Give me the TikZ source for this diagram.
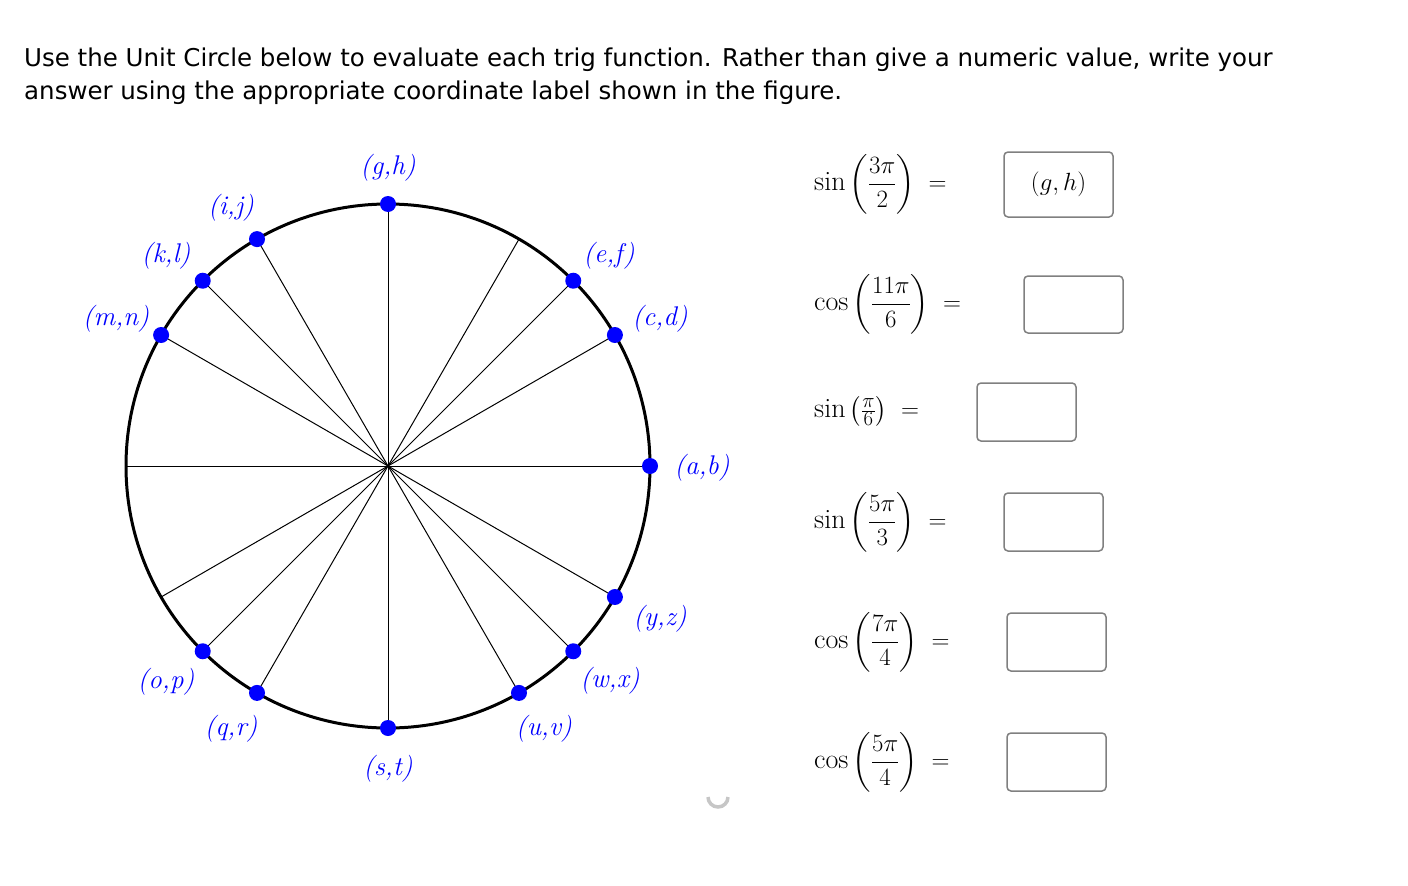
\documentclass[tikz,border=0pt]{standalone}
\usepackage{amsmath}
\usepackage{fontspec}
\usetikzlibrary{calc}
\newfontfamily\topfont{DejaVu Sans}
\begin{document}
\begin{tikzpicture}[x=1pt,y=-1pt,
  lab/.style={text=blue,font=\fontsize{27}{30}\selectfont\itshape},
  dot/.style={circle,fill=blue,inner sep=0pt,minimum size=16pt},
  ansbox/.style={draw=gray,line width=1.5pt,rounded corners=4pt,inner sep=0pt},
  expr/.style={anchor=west,inner sep=0pt,font=\fontsize{28}{30}\selectfont}]
\useasboundingbox (0,0) rectangle (1408,886);
\node[anchor=west,inner sep=0pt,font=\topfont\fontsize{24.5}{33}\selectfont,align=left] (t1) at (24,60) {Use the Unit Circle below to evaluate each trig function. Rather than give a numeric value, write your};
\node[anchor=west,inner sep=0pt,font=\topfont\fontsize{24.5}{33}\selectfont,align=left] (t2) at (24,93) {answer using the appropriate coordinate label shown in the figure.};
\coordinate (O) at (388,466);
\foreach \a in {0,30,45,60,90,120,135,150,180,210,225,240,270,300,315,330}
  \draw[line width=1pt] (O) -- ++(\a:262 and -262);
\draw[line width=3pt] (O) circle (262);
\foreach \a/\n in {0/ab,30/cd,45/ef,90/gh,120/ij,135/kl,150/mn,225/op,240/qr,270/st,300/uv,315/wx,330/yz}
  \node[dot] (p\n) at ($(O)+(\a:262 and -262)$) {};
\node[lab] (lgh) at (388,168) {(g,h)};
\node[lab] (lij) at (231,208) {(i,j)};
\node[lab] (lkl) at (166,256) {(k,l)};
\node[lab] (lmn) at (116,319) {(m,n)};
\node[lab] (lef) at (609,256) {(e,f)};
\node[lab] (lcd) at (660,319) {(c,d)};
\node[lab] (lab) at (702,468) {(a,b)};
\node[lab] (lyz) at (660,619) {(y,z)};
\node[lab] (lwx) at (610,681) {(w,x)};
\node[lab] (luv) at (544,729) {(u,v)};
\node[lab] (lst) at (388,769) {(s,t)};
\node[lab] (lqr) at (231,729) {(q,r)};
\node[lab] (lop) at (166,682) {(o,p)};
\node[expr] (e1) at (814,184) {$\mathrm{sin}\left(\dfrac{3\pi}{2}\right)\;=$};
\node[ansbox,minimum width=109pt,minimum height=65pt,font=\fontsize{28}{30}\selectfont] (b1) at (1058.5,184.5) {$(g,h)$};
\node[expr] (e2) at (814,304) {$\mathrm{cos}\left(\dfrac{11\pi}{6}\right)\;=$};
\node[ansbox,minimum width=99pt,minimum height=57pt] (b2) at (1073.5,304.5) {};
\node[expr] (e3) at (814,411) {$\mathrm{sin}\left(\frac{\pi}{6}\right)\;=$};
\node[ansbox,minimum width=99pt,minimum height=58pt] (b3) at (1026.5,412) {};
\node[expr] (e4) at (814,522) {$\mathrm{sin}\left(\dfrac{5\pi}{3}\right)\;=$};
\node[ansbox,minimum width=99pt,minimum height=58pt] (b4) at (1053.5,522) {};
\node[expr] (e5) at (814,642) {$\mathrm{cos}\left(\dfrac{7\pi}{4}\right)\;=$};
\node[ansbox,minimum width=99pt,minimum height=58pt] (b5) at (1056.5,642) {};
\node[expr] (e6) at (814,762) {$\mathrm{cos}\left(\dfrac{5\pi}{4}\right)\;=$};
\node[ansbox,minimum width=99pt,minimum height=58pt] (b6) at (1056.5,762) {};
\fill[white] (700,796) rectangle (1408,886);
\draw[gray!45,line width=3.5pt] (708,797) arc (180:0:10);
\end{tikzpicture}
\end{document}
